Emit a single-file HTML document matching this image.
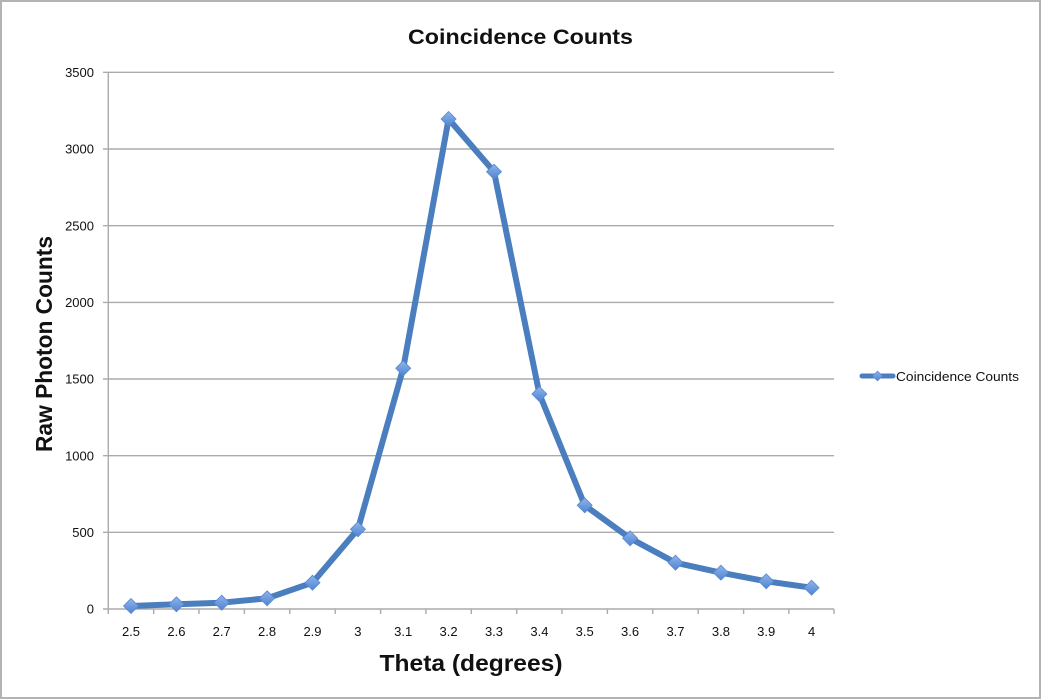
<!DOCTYPE html>
<html><head><meta charset="utf-8"><style>
html,body{margin:0;padding:0;background:#fff;}
svg{display:block;}
text{font-family:"Liberation Sans",sans-serif;fill:#111;}
</style></head><body>
<svg width="1042" height="700" viewBox="0 0 1042 700" xmlns="http://www.w3.org/2000/svg">
<defs>
<linearGradient id="dg" x1="0" y1="0" x2="0" y2="1">
<stop offset="0" stop-color="#8fb4ec"/><stop offset="1" stop-color="#4f84d2"/>
</linearGradient>
<symbol id="d" viewBox="-8 -8 16 16" overflow="visible"><path d="M0 -7.5 L7.5 0 L0 7.5 L-7.5 0 Z" fill="url(#dg)" stroke="#5a8ad0" stroke-width="0.8"/></symbol>
</defs>
<rect x="1" y="1" width="1039" height="697" fill="#fff" stroke="#b3b3b3" stroke-width="2"/>
<text x="520.5" y="44" font-size="21" font-weight="bold" text-anchor="middle" textLength="225" lengthAdjust="spacingAndGlyphs">Coincidence Counts</text>
<g stroke="#ababab" stroke-width="1.4">
<line x1="103" y1="72.3" x2="834" y2="72.3"/>
<line x1="103" y1="149" x2="834" y2="149"/>
<line x1="103" y1="225.7" x2="834" y2="225.7"/>
<line x1="103" y1="302.4" x2="834" y2="302.4"/>
<line x1="103" y1="379" x2="834" y2="379"/>
<line x1="103" y1="455.7" x2="834" y2="455.7"/>
<line x1="103" y1="532.3" x2="834" y2="532.3"/>
<line x1="103" y1="609" x2="834" y2="609"/>
<line x1="108.3" y1="72" x2="108.3" y2="614"/>
</g>
<g stroke="#ababab" stroke-width="1.4">
<line x1="153.7" y1="609" x2="153.7" y2="614"/><line x1="199" y1="609" x2="199" y2="614"/><line x1="244.4" y1="609" x2="244.4" y2="614"/><line x1="289.8" y1="609" x2="289.8" y2="614"/><line x1="335.2" y1="609" x2="335.2" y2="614"/><line x1="380.6" y1="609" x2="380.6" y2="614"/><line x1="425.9" y1="609" x2="425.9" y2="614"/><line x1="471.3" y1="609" x2="471.3" y2="614"/><line x1="516.7" y1="609" x2="516.7" y2="614"/><line x1="562" y1="609" x2="562" y2="614"/><line x1="607.4" y1="609" x2="607.4" y2="614"/><line x1="652.8" y1="609" x2="652.8" y2="614"/><line x1="698.2" y1="609" x2="698.2" y2="614"/><line x1="743.6" y1="609" x2="743.6" y2="614"/><line x1="788.9" y1="609" x2="788.9" y2="614"/><line x1="834" y1="609" x2="834" y2="614"/>
</g>
<g font-size="13" text-anchor="end">
<text x="94" y="77">3500</text><text x="94" y="153.7">3000</text><text x="94" y="230.4">2500</text><text x="94" y="307">2000</text><text x="94" y="383.7">1500</text><text x="94" y="460.4">1000</text><text x="94" y="537">500</text><text x="94" y="613.7">0</text>
</g>
<g font-size="13" text-anchor="middle">
<text x="131" y="636">2.5</text><text x="176.4" y="636">2.6</text><text x="221.7" y="636">2.7</text><text x="267.1" y="636">2.8</text><text x="312.5" y="636">2.9</text><text x="357.9" y="636">3</text><text x="403.2" y="636">3.1</text><text x="448.6" y="636">3.2</text><text x="494" y="636">3.3</text><text x="539.4" y="636">3.4</text><text x="584.7" y="636">3.5</text><text x="630.1" y="636">3.6</text><text x="675.5" y="636">3.7</text><text x="720.9" y="636">3.8</text><text x="766.2" y="636">3.9</text><text x="811.6" y="636">4</text>
</g>
<text x="471" y="671" font-size="23" font-weight="bold" text-anchor="middle" textLength="183" lengthAdjust="spacingAndGlyphs">Theta (degrees)</text>
<text transform="translate(52,344) rotate(-90)" font-size="23" font-weight="bold" text-anchor="middle" textLength="216" lengthAdjust="spacingAndGlyphs">Raw Photon Counts</text>
<polyline fill="none" stroke="#4a7ebf" stroke-width="6" stroke-linejoin="round" stroke-linecap="round" points="131,606 176.4,604.3 221.7,602.7 267.1,598.3 312.5,582.7 357.9,529.3 403.2,368.3 448.6,119 494,171.7 539.4,394 584.7,505.3 630.1,538.3 675.5,562.7 720.9,572.7 766.2,581.3 811.6,587.7"/>
<g>
<use href="#d" x="123" y="598" width="16" height="16"/>
<use href="#d" x="168.4" y="596.3" width="16" height="16"/>
<use href="#d" x="213.7" y="594.7" width="16" height="16"/>
<use href="#d" x="259.1" y="590.3" width="16" height="16"/>
<use href="#d" x="304.5" y="574.7" width="16" height="16"/>
<use href="#d" x="349.9" y="521.3" width="16" height="16"/>
<use href="#d" x="395.2" y="360.3" width="16" height="16"/>
<use href="#d" x="440.6" y="111" width="16" height="16"/>
<use href="#d" x="486" y="163.7" width="16" height="16"/>
<use href="#d" x="531.4" y="386" width="16" height="16"/>
<use href="#d" x="576.7" y="497.3" width="16" height="16"/>
<use href="#d" x="622.1" y="530.3" width="16" height="16"/>
<use href="#d" x="667.5" y="554.7" width="16" height="16"/>
<use href="#d" x="712.9" y="564.7" width="16" height="16"/>
<use href="#d" x="758.2" y="573.3" width="16" height="16"/>
<use href="#d" x="803.6" y="579.7" width="16" height="16"/>
</g>
<line x1="862" y1="376" x2="893" y2="376" stroke="#4a7ebf" stroke-width="5" stroke-linecap="round"/>
<path d="M877.5 371 L882.5 376 L877.5 381 L872.5 376 Z" fill="url(#dg)" stroke="#5a8ad0" stroke-width="0.6"/>
<text x="896" y="381" font-size="13" textLength="123" lengthAdjust="spacingAndGlyphs">Coincidence Counts</text>
</svg>
</body></html>
